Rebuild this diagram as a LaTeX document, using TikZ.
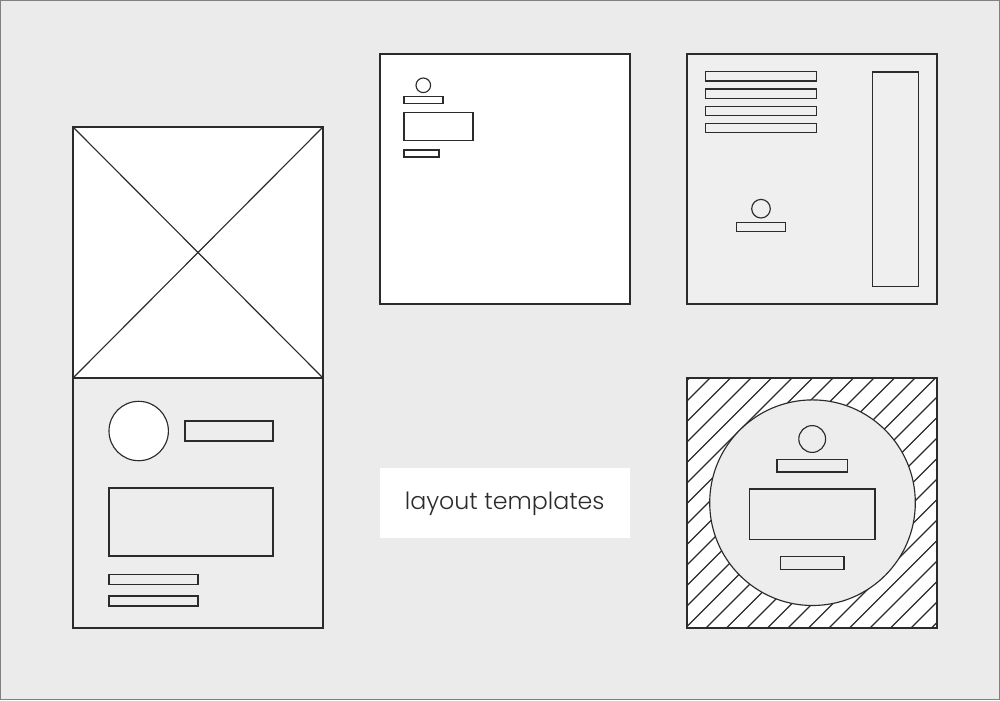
\documentclass[tikz,border=0pt]{standalone}
\usepackage{fontspec}
\newfontfamily\thinfont{Poppins Light}
\definecolor{bg}{HTML}{EBEBEB}
\definecolor{panel}{HTML}{EDEDED}
\definecolor{panelb}{HTML}{EFEFEF}
\definecolor{ink}{HTML}{2B2B2B}
\tikzset{
  frame/.style={draw=ink, line width=0.65pt},
  bar/.style={draw=ink, line width=0.65pt},
}
\begin{document}
\begin{tikzpicture}[x=0.02cm, y=-0.02cm]
    \useasboundingbox (0,0) rectangle (1000,700);
    \fill[bg] (0,0) rectangle (1000,700);
    \draw[gray, line width=0.6pt] (0.5,0.5) rectangle (999.5,699.5);

    % left: picture on top, text below
    \draw[frame, fill=white] (73,127) rectangle (323,378);
    \draw[frame] (73,127) -- (323,378);
    \draw[frame] (73,378) -- (323,127);
    \draw[frame, fill=panel] (73,378) rectangle (323,628);
    \draw[bar, fill=white] (138.7,431) circle (29.7);
    \draw[bar] (185,421) rectangle (273,441);
    \draw[bar] (109,488) rectangle (273,556);
    \foreach \y in {574.5,596}
        \draw[bar] (109,\y) rectangle (198,\y+10);

    % middle
    \draw[frame, fill=white] (380,54) rectangle (630,304);
    \draw[bar] (423.3,85.3) circle (7.3);
    \draw[bar] (404,96.5) rectangle (443,103.5);
    \draw[bar] (404,112.5) rectangle (473,140.5);
    \draw[bar] (404,150) rectangle (439,157);

    % top right
    \draw[frame, fill=panelb] (687,54) rectangle (937,304);
    \foreach \y in {71.5,89,106.3,123.3}
        \draw[bar] (705.5,\y) rectangle (816.5,\y+9.5);
    \draw[bar] (872.5,72) rectangle (918.5,286.5);
    \draw[bar] (761,208.7) circle (9.3);
    \draw[bar] (736.5,222.5) rectangle (785.7,231.5);

    % bottom right, hatched
    \fill[white] (687,378) rectangle (937,628);
    \begin{scope}
        \clip (687,378) rectangle (937,628);
        \foreach \cc in {1067.5,1088,...,1570}
            \draw[bar] (\cc-700,700) -- (\cc-300,300);
    \end{scope}
    \draw[bar, fill=panel] (812.5,502.7) circle (102.8);
    \draw[frame] (687,378) rectangle (937,628);
    \draw[bar] (812.2,439) circle (13.4);
    \draw[bar] (777,459.5) rectangle (847.7,472);
    \draw[bar] (749.3,489) rectangle (875,539.7);
    \draw[bar] (780.3,556.5) rectangle (844,569.3);

    % caption
    \fill[white] (380,468) rectangle (630,537.5);
    \node[font=\thinfont\fontsize{13.5}{16}\selectfont, text=ink, anchor=base, inner sep=0pt] (caption) at (504.7,509.3) {layout templates};
\end{tikzpicture}
\end{document}
